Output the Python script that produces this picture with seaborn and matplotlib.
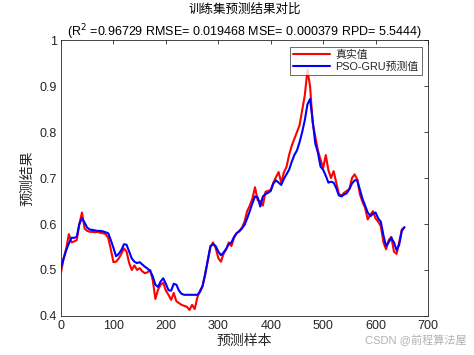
import numpy as np
import pandas as pd
import seaborn as sns
import matplotlib.pyplot as plt

# sample index (read every 5 samples off the picture)
samples = list(range(0, 660, 5))

true_vals = [
    0.495, 0.525, 0.547, 0.578, 0.560, 0.562, 0.565, 0.600, 0.625, 0.590,
    0.585, 0.583, 0.583, 0.582, 0.583, 0.581, 0.580, 0.578, 0.570, 0.545,
    0.517, 0.518, 0.525, 0.535, 0.547, 0.540, 0.515, 0.500, 0.510, 0.500,
    0.504, 0.497, 0.493, 0.495, 0.500, 0.478, 0.437, 0.457, 0.468, 0.472,
    0.455, 0.446, 0.435, 0.450, 0.432, 0.428, 0.424, 0.422, 0.420, 0.413,
    0.424, 0.415, 0.440, 0.455, 0.465, 0.492, 0.520, 0.550, 0.560, 0.548,
    0.526, 0.518, 0.535, 0.545, 0.560, 0.552, 0.570, 0.580, 0.585, 0.592,
    0.605, 0.628, 0.640, 0.655, 0.680, 0.652, 0.650, 0.640, 0.670, 0.672,
    0.674, 0.690, 0.702, 0.713, 0.690, 0.712, 0.724, 0.750, 0.770, 0.785,
    0.800, 0.815, 0.848, 0.880, 0.935, 0.900, 0.820, 0.790, 0.760, 0.740,
    0.722, 0.750, 0.717, 0.700, 0.715, 0.690, 0.665, 0.662, 0.668, 0.672,
    0.676, 0.700, 0.708, 0.697, 0.665, 0.648, 0.635, 0.610, 0.620, 0.628,
    0.612, 0.605, 0.595, 0.560, 0.545, 0.565, 0.572, 0.540, 0.535, 0.560,
    0.588, 0.593,
]

pred_vals = [
    0.505, 0.525, 0.543, 0.558, 0.570, 0.570, 0.572, 0.600, 0.613, 0.603,
    0.592, 0.588, 0.587, 0.586, 0.585, 0.585, 0.584, 0.582, 0.580, 0.565,
    0.548, 0.530, 0.535, 0.543, 0.556, 0.555, 0.540, 0.525, 0.518, 0.515,
    0.517, 0.512, 0.507, 0.503, 0.498, 0.486, 0.468, 0.463, 0.475, 0.482,
    0.470, 0.456, 0.455, 0.470, 0.468, 0.455, 0.448, 0.446, 0.446, 0.446,
    0.446, 0.446, 0.446, 0.452, 0.465, 0.490, 0.522, 0.552, 0.556, 0.552,
    0.540, 0.532, 0.538, 0.546, 0.556, 0.560, 0.572, 0.580, 0.584, 0.590,
    0.598, 0.612, 0.628, 0.645, 0.660, 0.658, 0.638, 0.660, 0.665, 0.668,
    0.672, 0.688, 0.695, 0.690, 0.685, 0.698, 0.708, 0.718, 0.735, 0.750,
    0.760, 0.778, 0.800, 0.826, 0.860, 0.872, 0.825, 0.775, 0.755, 0.725,
    0.718, 0.705, 0.690, 0.692, 0.690, 0.678, 0.662, 0.660, 0.664, 0.667,
    0.676, 0.688, 0.695, 0.695, 0.675, 0.655, 0.640, 0.625, 0.617, 0.622,
    0.625, 0.612, 0.605, 0.575, 0.552, 0.560, 0.570, 0.560, 0.543, 0.555,
    0.585, 0.593,
]

series_names = ['真实值', 'PSO-GRU预测值']
xticks = [0, 100, 200, 300, 400, 500, 600, 700]
yticks = [0.4, 0.5, 0.6, 0.7, 0.8, 0.9, 1.0]
ytick_labels = ['0.4', '0.5', '0.6', '0.7', '0.8', '0.9', '1']

sns.set_style('white')
plt.rcParams['font.family'] = ['Liberation Sans', 'Noto Sans CJK SC', 'DejaVu Sans']

df = pd.DataFrame({'x': samples * 2,
                   'y': true_vals + pred_vals,
                   'series': [series_names[0]] * len(samples) + [series_names[1]] * len(samples)})

fig = plt.figure(figsize=(4.74, 3.55), dpi=100)
ax = fig.add_axes([0.1287, 0.110, 0.9030 - 0.1287, 0.887 - 0.110])

sns.lineplot(data=df, x='x', y='y', hue='series', palette=['#ff0000', '#0000ff'],
             linewidth=1.5, ax=ax)

ax.set_xlim(0, 700)
ax.set_ylim(0.4, 1.0)
ax.set_xticks(xticks)
ax.set_yticks(yticks)
ax.set_yticklabels(ytick_labels)
ax.tick_params(direction='in', length=3, width=0.6, top=True, right=True,
               labelsize=9, colors='#262626', pad=3)
for s in ax.spines.values():
    s.set_color('#262626')
    s.set_linewidth(0.6)

ax.set_xlabel('预测样本', fontsize=10, color='#262626', labelpad=1)
ax.set_ylabel('预测结果', fontsize=10, color='#262626', labelpad=4)
ax.set_title('训练集预测结果对比\n(R$^2$ =0.96729 RMSE= 0.019468 MSE= 0.000379 RPD= 5.5444)',
             fontsize=9, color='black', pad=3, linespacing=1.45)

leg = ax.legend(loc='upper right', fontsize=7.8, frameon=True, fancybox=False,
                edgecolor='#262626', borderpad=0.3, handlelength=3.4,
                handletextpad=0.5, labelspacing=0.15, borderaxespad=0.6)
leg.get_frame().set_linewidth(0.6)

fig.text(0.985, 0.025, 'CSDN @前程算法屋', ha='right', va='bottom',
         fontsize=8, color='#b0b0b0')

fig.savefig('out.png', dpi=100)
